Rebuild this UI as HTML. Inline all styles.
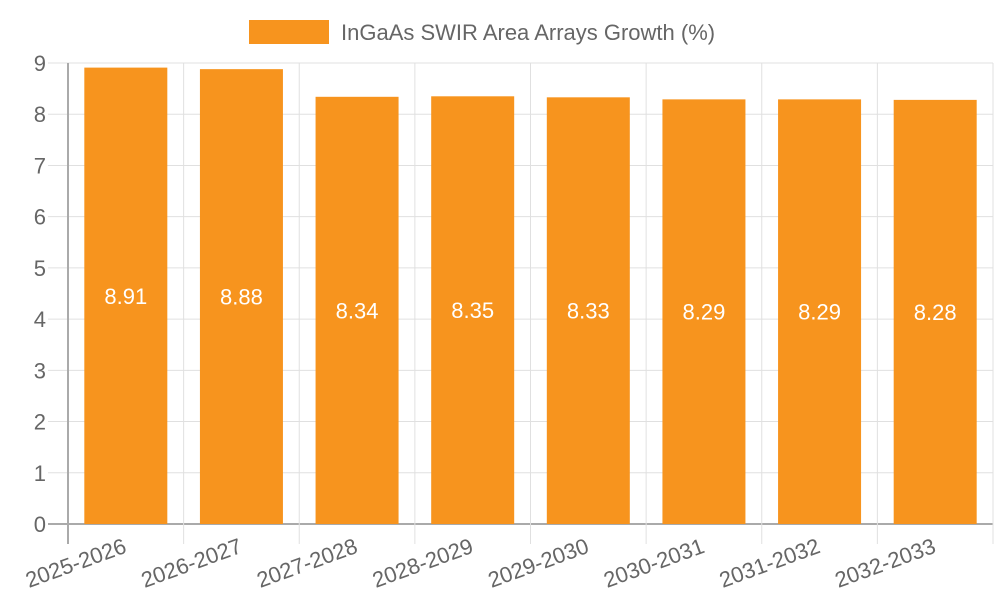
<!DOCTYPE html>
<html><head><meta charset="utf-8"><style>
body{margin:0;background:#fff;}
svg{display:block;font-family:"Liberation Sans",sans-serif;}
</style></head><body>
<svg id="c" width="1000" height="600">
<g>
<rect x="249" y="20" width="80" height="24" fill="#f7941e"/>
<text x="341" y="40" font-size="22" fill="#666">InGaAs SWIR Area Arrays Growth (%)</text>
</g>
<g id="grid"></g><g id="bars"></g><g id="axes"></g>
</svg>
<script>
const categories=["2025-2026","2026-2027","2027-2028","2028-2029","2029-2030","2030-2031","2031-2032","2032-2033"];
const values=[8.91,8.88,8.34,8.35,8.33,8.29,8.29,8.28];
const yTicks=[0,1,2,3,4,5,6,7,8,9];
const L=68,R=993,T=63,B=524,yMax=9;
const NS="http://www.w3.org/2000/svg";
const bw=(R-L)/categories.length;
function y(v){return B-(v/yMax)*(B-T);}
function x(i){return L+i*bw;}
function mk(tag,attrs,parent,txt){const e=document.createElementNS(NS,tag);for(const k in attrs)e.setAttribute(k,attrs[k]);if(txt!==undefined)e.textContent=txt;document.getElementById(parent).appendChild(e);return e;}
yTicks.forEach(t=>{
 const l=mk('line',{x1:48,x2:R,y1:y(t),y2:y(t),stroke:t===0?'#aaa':'#e0e0e0','stroke-width':t===0?2:1},'grid');
 
 
 const tx=mk('text',{x:46,y:y(t)+8,'text-anchor':'end','font-size':22,fill:'#666'},'axes',String(t));
 
 
});
for(let i=0;i<=categories.length;i++){
 const l=mk('line',{x1:x(i),x2:x(i),y1:T,y2:544,stroke:i===0?'#aaa':'#e0e0e0','stroke-width':i===0?2:1},'grid');
 
 
}
categories.forEach((c,i)=>{
 const cx=x(i)+bw/2,w=83;
 const r=mk('rect',{x:cx-w/2,y:y(values[i]),width:w,height:B-y(values[i]),fill:'#f7941e'},'bars');
 
 
 const v=mk('text',{x:cx,y:(y(values[i])+B)/2+8,'text-anchor':'middle','font-size':22,fill:'#fff'},'bars',values[i].toFixed(2));
 
 
 const lb=mk('text',{x:0,y:0,'text-anchor':'end','font-size':22,fill:'#666',transform:`translate(${cx+2},${552}) rotate(-20)`},'axes',c);
 
 
});
</script>
</body></html>
